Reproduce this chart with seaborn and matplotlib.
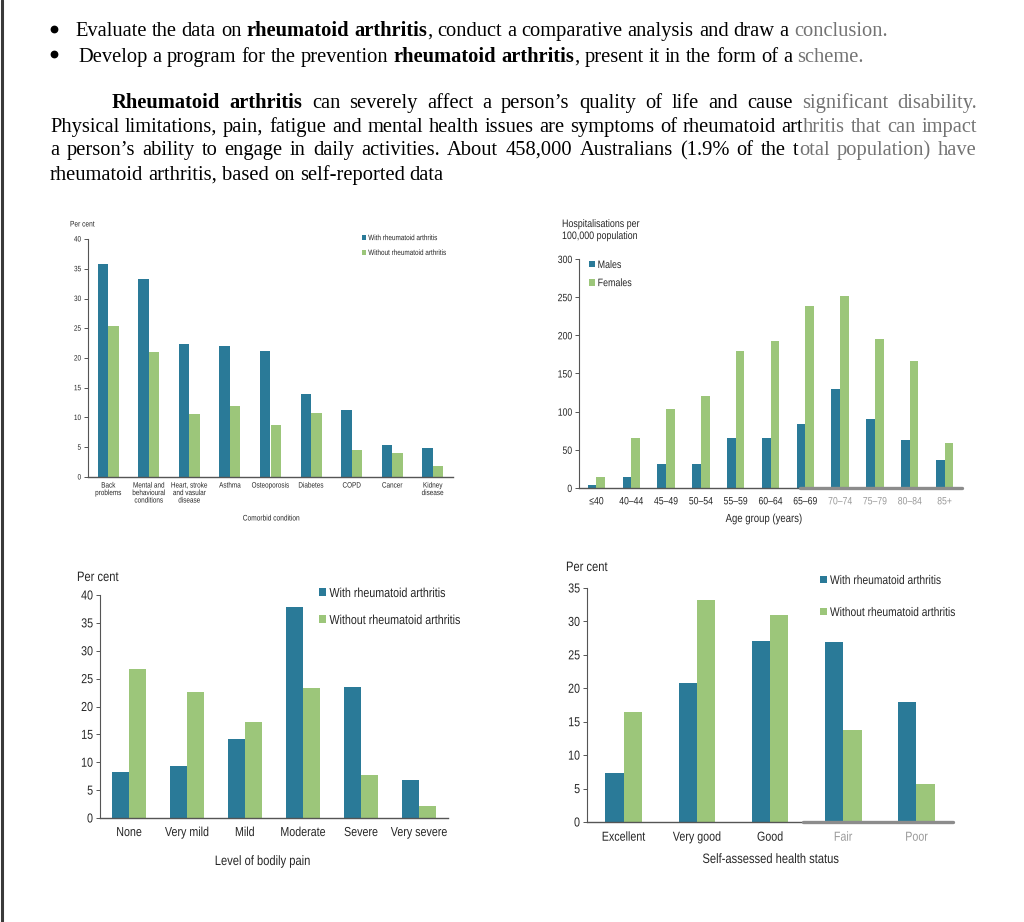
import matplotlib
matplotlib.use("Agg")
import matplotlib.pyplot as plt
import seaborn as sns
import pandas as pd
from matplotlib.patches import Patch
from matplotlib.lines import Line2D
from matplotlib.patheffects import AbstractPathEffect
from matplotlib.transforms import Affine2D

# ---------------- data ----------------
comorbid_cats = ["Back\nproblems", "Mental and\nbehavioural\nconditions", "Heart, stroke\nand vasular\ndisease",
                 "Asthma", "Osteoporosis", "Diabetes", "COPD", "Cancer", "Kidney\ndisease"]
comorbid_with = [35.8, 33.2, 22.3, 22.0, 21.2, 14.0, 11.2, 5.3, 4.9]
comorbid_without = [25.4, 21.0, 10.6, 11.9, 8.7, 10.7, 4.5, 4.1, 1.9]

age_cats = ["≤40", "40–44", "45–49", "50–54", "55–59", "60–64", "65–69", "70–74", "75–79", "80–84", "85+"]
hosp_males = [4, 14, 32, 32, 65, 65, 84, 130, 91, 63, 37]
hosp_females = [15, 65, 103, 121, 179, 193, 238, 251, 195, 166, 59]

pain_cats = ["None", "Very mild", "Mild", "Moderate", "Severe", "Very severe"]
pain_with = [8.3, 9.3, 14.1, 37.9, 23.5, 6.8]
pain_without = [26.8, 22.6, 17.2, 23.3, 7.7, 2.1]

health_cats = ["Excellent", "Very good", "Good", "Fair", "Poor"]
health_with = [7.3, 20.8, 27.0, 26.9, 18.0]
health_without = [16.5, 33.2, 31.0, 13.8, 5.7]

ra_labels = ["With rheumatoid arthritis", "Without rheumatoid arthritis"]
sex_labels = ["Males", "Females"]

BLUE = "#2a7a98"
GREEN = "#9cc67a"
TXT = "#262626"
SPINE = "#555555"

W, H = 1024, 922
sns.set_theme(style="white")
plt.rcParams["font.family"] = ["Liberation Sans", "DejaVu Sans"]

fig = plt.figure(figsize=(W / 100, H / 100), dpi=100)
fig.patch.set_facecolor("white")
renderer = fig.canvas.get_renderer()


def fx(x):
    return x / W


def fy(y):
    return 1 - y / H


class Squeeze(AbstractPathEffect):
    """Horizontally condense text glyphs (imitates a narrow font)."""

    def __init__(self, sx=0.82, frac=0.0):
        super().__init__()
        self.sx = sx
        self.frac = frac

    def draw_path(self, renderer, gc, tpath, affine, rgbFace=None):
        ext = tpath.get_extents()
        w = ext.x1
        shift = (1 - self.sx) * w * self.frac
        new = Affine2D().scale(self.sx, 1).translate(shift, 0) + affine
        renderer.draw_path(gc, tpath, new, rgbFace)


SQ = 0.82

# ---------------- top text ----------------
SERIF = ["Liberation Serif", "DejaVu Serif"]
GREY = "#737373"


def make_words(segments):
    words = []
    cur = []
    for txt, st in segments:
        parts = txt.split(" ")
        for i, p in enumerate(parts):
            if i > 0:
                if cur:
                    words.append(cur)
                cur = []
            if p:
                cur.append((p, st))
    if cur:
        words.append(cur)
    return words


def measure(txt, st, fs):
    t = fig.text(0, 0, txt, fontsize=fs, family=SERIF,
                 fontweight="bold" if "b" in st else "normal")
    w = t.get_window_extent(renderer).width
    t.remove()
    return w


def draw_line(segments, x0, base, fs, right=None):
    words = make_words(segments)
    widths = [[measure(p, st, fs) for p, st in wd] for wd in words]
    sp = measure("x x", "n", fs) - measure("xx", "n", fs)
    tot = sum(sum(w) for w in widths)
    if right is not None and len(words) > 1:
        gap = (right - x0 - tot) / (len(words) - 1)
    else:
        gap = sp
    x = x0
    for wd, ws in zip(words, widths):
        for (p, st), w in zip(wd, ws):
            fig.text(fx(x), fy(base), p, fontsize=fs, family=SERIF,
                     fontweight="bold" if "b" in st else "normal",
                     color=GREY if "g" in st else "black", va="baseline", ha="left")
            x += w
        x += gap


line1 = [("Evaluate the data on ", "n"), ("rheumatoid arthritis", "b"),
         (", conduct a comparative analysis and draw a ", "n"), ("conclusion.", "g")]
w14 = sum(sum(measure(p, st, 14) for p, st in wd) for wd in make_words(line1)) + \
    (len(make_words(line1)) - 1) * (measure("x x", "n", 14) - measure("xx", "n", 14))
FS = 14 * (893 - 75) / w14

# bullets
fig.add_artist(Line2D([fx(54), fx(54)], [fy(29), fy(54)], ls="none", marker="o",
                      markersize=4.6, color="black", transform=fig.transFigure))
draw_line(line1, 75, 36, FS)
draw_line([("Develop a program for the prevention ", "n"), ("rheumatoid arthritis", "b"),
           (", present it in the form of a ", "n"), ("scheme.", "g")], 78, 62, FS)
draw_line([("Rheumatoid arthritis", "b"),
           (" can severely affect a person’s quality of life and cause ", "n"),
           ("significant disability.", "g")], 112, 108, FS, right=977)
draw_line([("Physical limitations, pain, fatigue and mental health issues are symptoms of rheumatoid art", "n"),
           ("hritis that can impact", "g")], 50, 132, FS, right=977)
draw_line([("a person’s ability to engage in daily activities. About 458,000 Australians (1.9% of the t", "n"),
           ("otal population) have", "g")], 50, 155, FS, right=977)
draw_line([("rheumatoid arthritis, based on self-reported data", "n")], 50, 180, FS)

# left border
fig.add_artist(Line2D([fx(1.5), fx(1.5)], [0, 1], color="#3a3a3a", lw=2.2, transform=fig.transFigure))


# ---------------- charts ----------------
def chart(left, right, top, bottom, cats, s1, s2, names, ymax, ystep, width,
          tick_fs, pad_x, legend_xy, legend_fs, lab_sp, ylab, ylab_xy, ylab_fs,
          xtitle, xtitle_xy, xtitle_fs, grey_from=None, linesp=1.2, smudge_from=None):
    ax = fig.add_axes([fx(left), fy(bottom), fx(right - left), (bottom - top) / H])
    n = len(cats)
    df = pd.DataFrame({"cat": list(cats) * 2, "val": list(s1) + list(s2),
                       "grp": [names[0]] * n + [names[1]] * n})
    sns.barplot(data=df, x="cat", y="val", hue="grp", hue_order=names,
                palette=[BLUE, GREEN], width=width, gap=0, ax=ax, legend=False,
                saturation=1, linewidth=0, errorbar=None)
    ax.set_xlim(-0.5, n - 0.5)
    ax.set_ylim(0, ymax)
    ax.set_yticks(list(range(0, ymax + 1, ystep)))
    ax.set_xlabel("")
    ax.set_ylabel("")
    for s in ["top", "right"]:
        ax.spines[s].set_visible(False)
    ax.spines["left"].set_color(SPINE)
    ax.spines["left"].set_linewidth(0.8)
    ax.spines["bottom"].set_color(SPINE)
    ax.spines["bottom"].set_linewidth(1.0)
    if smudge_from is not None:
        ax.axhline(0, xmin=(smudge_from - left) / (right - left), xmax=1,
                   color="#8c8c8c", lw=2.4, clip_on=False, zorder=5)
    ax.tick_params(axis="y", length=3, width=0.7, color=SPINE, labelsize=tick_fs,
                   labelcolor=TXT, pad=2, left=True)
    ax.tick_params(axis="x", length=0, labelsize=tick_fs, labelcolor=TXT, pad=pad_x)
    ax.set_facecolor("none")
    for i, lab in enumerate(ax.get_xticklabels()):
        lab.set_linespacing(linesp)
        lab.set_path_effects([Squeeze(SQ, 0.5)])
        if grey_from is not None and i >= grey_from:
            lab.set_color("#9a9a9a")
    for lab in ax.get_yticklabels():
        lab.set_path_effects([Squeeze(SQ, 1.0)])
    handles = [Patch(facecolor=BLUE, edgecolor="none"), Patch(facecolor=GREEN, edgecolor="none")]
    leg = ax.legend(handles, names, loc="upper left",
                    bbox_to_anchor=(fx(legend_xy[0]), fy(legend_xy[1])),
                    bbox_transform=fig.transFigure, frameon=False, fontsize=legend_fs,
                    handlelength=0.55, handleheight=0.55, handletextpad=0.25, labelspacing=lab_sp,
                    borderpad=0, borderaxespad=0, labelcolor=TXT)
    for t in leg.get_texts():
        t.set_path_effects([Squeeze(SQ, 0.0)])
    t1 = fig.text(fx(ylab_xy[0]), fy(ylab_xy[1]), ylab, fontsize=ylab_fs, color=TXT,
                  ha="left", va="center", linespacing=1.25)
    t1.set_path_effects([Squeeze(SQ, 0.0)])
    t2 = fig.text(fx(xtitle_xy[0]), fy(xtitle_xy[1]), xtitle, fontsize=xtitle_fs, color=TXT,
                  ha="center", va="center")
    t2.set_path_effects([Squeeze(SQ, 0.5)])
    return ax


chart(88, 453, 239, 477, comorbid_cats, comorbid_with, comorbid_without, ra_labels,
      40, 5, 0.52, 5.6, 4.0, (362, 235), 5.6, 1.0, "Per cent", (70, 225), 5.8,
      "Comorbid condition", (271, 519), 5.8, linesp=1.1)

chart(579, 962, 259, 488, age_cats, hosp_males, hosp_females, sex_labels,
      300, 50, 0.5, 7.6, 6.0, (589, 260), 7.8, 0.75, "Hospitalisations per\n100,000 population",
      (562, 230), 7.8, "Age group (years)", (764, 519), 8.4, grey_from=7, smudge_from=800)

chart(100, 448, 595, 818, pain_cats, pain_with, pain_without, ra_labels,
      40, 5, 0.57, 9.4, 6.5, (319, 588), 9.4, 1.15, "Per cent", (77, 577), 9.8,
      "Level of bodily pain", (263, 861), 9.8)

chart(587, 953, 588, 822, health_cats, health_with, health_without, ra_labels,
      35, 5, 0.5, 9.4, 7.0, (820, 575), 9.0, 1.6, "Per cent", (566, 567), 9.8,
      "Self-assessed health status", (771, 859), 9.8, grey_from=3, smudge_from=803)

fig.savefig("out.png", dpi=100, facecolor="white")
